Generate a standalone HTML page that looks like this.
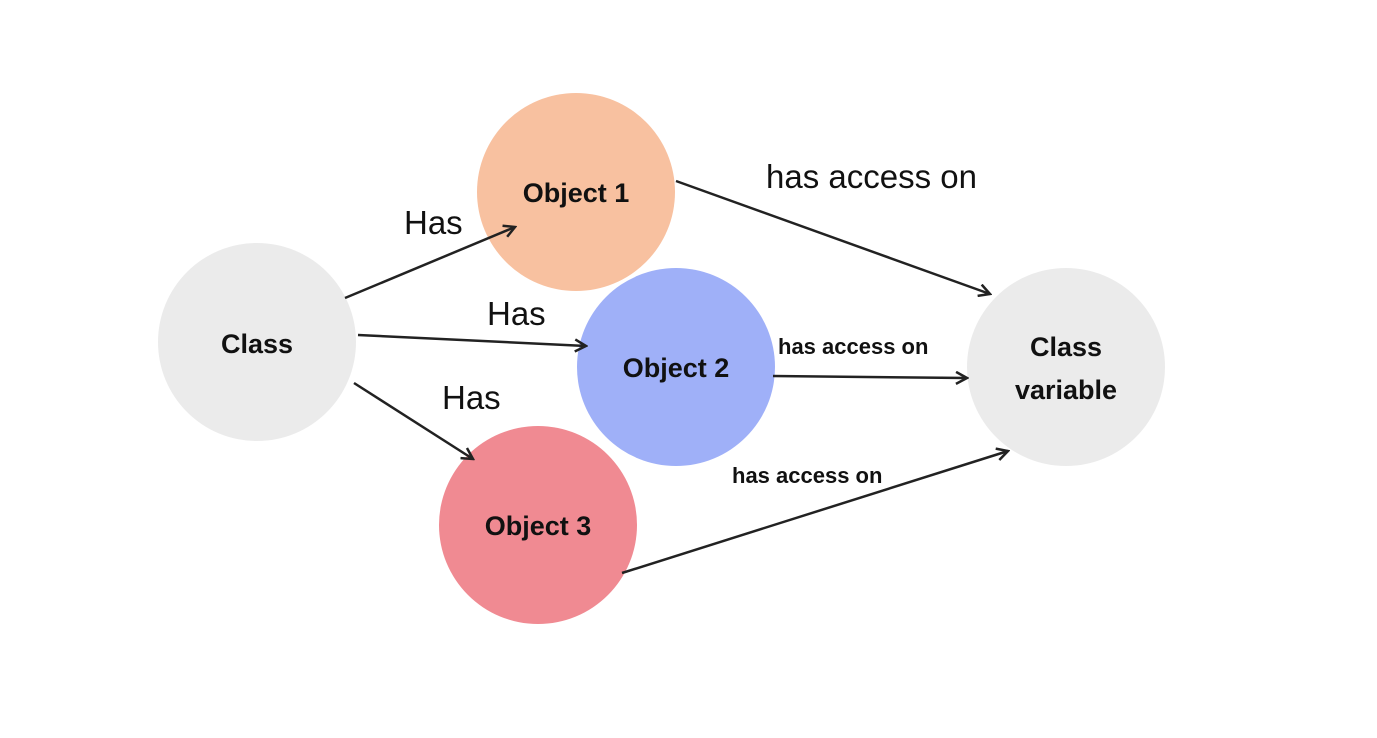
<!DOCTYPE html>
<html><head><style>body{margin:0;background:#fff}svg{display:block}</style></head><body>
<svg width="1377" height="738" xmlns="http://www.w3.org/2000/svg" font-family="Liberation Sans, sans-serif">
<defs><marker id="a" markerWidth="14" markerHeight="14" refX="12" refY="7" orient="auto" markerUnits="userSpaceOnUse"><path d="M1,1 L12,7 L1,13" fill="none" stroke="#222" stroke-width="2.5"/></marker></defs>
<circle cx="257" cy="342" r="99" fill="#ebebeb"/>
<circle cx="576" cy="192" r="99" fill="#f8c1a0"/>
<circle cx="676" cy="367" r="99" fill="#9fb0f8"/>
<circle cx="538" cy="525" r="99" fill="#f08a92"/>
<circle cx="1066" cy="367" r="99" fill="#ebebeb"/>
<g stroke="#222" stroke-width="2.5" fill="none" marker-end="url(#a)">
<line x1="345" y1="298" x2="515" y2="227"/>
<line x1="358" y1="335" x2="586" y2="346"/>
<line x1="354" y1="383" x2="473" y2="459"/>
<line x1="676" y1="181" x2="990" y2="294"/>
<line x1="773" y1="376" x2="967" y2="378"/>
<line x1="622" y1="573" x2="1008" y2="451"/>
</g>
<g font-weight="bold" font-size="27" text-anchor="middle" fill="#111">
<text x="576" y="202">Object 1</text>
<text x="676" y="377">Object 2</text>
<text x="538" y="535">Object 3</text>
<text x="257" y="353">Class</text>
<text x="1066" y="356">Class</text>
<text x="1066" y="399">variable</text>
</g>
<g font-size="33" fill="#111">
<text x="404" y="234">Has</text>
<text x="487" y="325">Has</text>
<text x="442" y="409">Has</text>
<text x="766" y="188">has access on</text>
</g>
<g font-size="22" font-weight="bold" fill="#111">
<text x="778" y="354">has access on</text>
<text x="732" y="483">has access on</text>
</g>
</svg>
</body></html>
